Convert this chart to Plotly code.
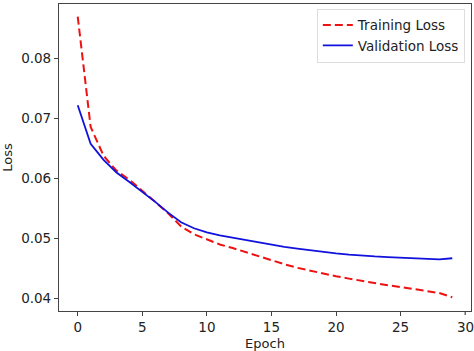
import plotly.graph_objects as go

epochs = list(range(30))
train_loss = [0.0870, 0.0686, 0.0638, 0.0613, 0.0598, 0.0580, 0.0561, 0.0542, 0.0520, 0.0507,
              0.0498, 0.0490, 0.0484, 0.0477, 0.0470, 0.0464, 0.0457, 0.0451, 0.0446, 0.0441,
              0.0437, 0.0433, 0.0429, 0.0425, 0.0422, 0.0419, 0.0416, 0.0413, 0.0409, 0.0402]
val_loss = [0.0722, 0.0658, 0.0631, 0.0610, 0.0594, 0.0578, 0.0561, 0.0543, 0.0527, 0.0517,
            0.0510, 0.0505, 0.0501, 0.0497, 0.0493, 0.0489, 0.0486, 0.0483, 0.0480, 0.0477,
            0.0475, 0.0473, 0.0471, 0.0470, 0.0469, 0.0468, 0.0467, 0.0466, 0.0465, 0.0467]
x_ticks = [0, 5, 10, 15, 20, 25, 30]
y_ticks = [0.04, 0.05, 0.06, 0.07, 0.08]

fig = go.Figure()
fig.add_trace(go.Scatter(x=epochs, y=train_loss, mode="lines", name="Training Loss",
                         line=dict(color="#ee1111", width=2, dash="8px,4px")))
fig.add_trace(go.Scatter(x=epochs, y=val_loss, mode="lines", name="Validation Loss",
                         line=dict(color="#1111dd", width=1.8)))

axis_common = dict(showline=True, linecolor="#444444", linewidth=1.2, mirror=True,
                   ticks="outside", ticklen=4, tickcolor="#444444", showgrid=False,
                   zeroline=False, tickfont=dict(size=13.5, color="#222222"))

# Plotly drops the last x tick when it sits this close to the plot edge,
# so the final tick (and its label) is drawn explicitly at its data position.
last_tick = x_ticks[-1]
fig.add_annotation(x=last_tick, xref="x", y=0, yref="paper", yanchor="top",
                   yshift=-6, text=str(last_tick), showarrow=False,
                   font=dict(size=13.5, color="#222222", family="DejaVu Sans"))
fig.add_shape(type="line", xref="x", x0=last_tick, x1=last_tick,
              yref="paper", ysizemode="pixel", yanchor=0, y0=0, y1=-4,
              line=dict(color="#444444", width=1.2))

fig.update_layout(
    width=474, height=351,
    margin=dict(l=59, r=3, t=4, b=40),
    paper_bgcolor="white", plot_bgcolor="white",
    font=dict(family="DejaVu Sans", color="#222222"),
    xaxis=dict(range=[-1.45, 30.45], tickmode="array", tickvals=x_ticks[:-1],
               ticklabeloverflow="allow",
               title=dict(text="Epoch", font=dict(size=13), standoff=4), **axis_common),
    yaxis=dict(range=[0.0379, 0.0891], tickvals=y_ticks,
               tickformat=".2f",
               title=dict(text="Loss", font=dict(size=13), standoff=6), **axis_common),
    legend=dict(x=0.985, y=0.985, xanchor="right", yanchor="top",
                bgcolor="rgba(255,255,255,0.9)", bordercolor="#dddddd", borderwidth=1,
                font=dict(size=13.5, color="#222222"), tracegroupgap=0),
    showlegend=True,
)

fig.write_html("out.html")
